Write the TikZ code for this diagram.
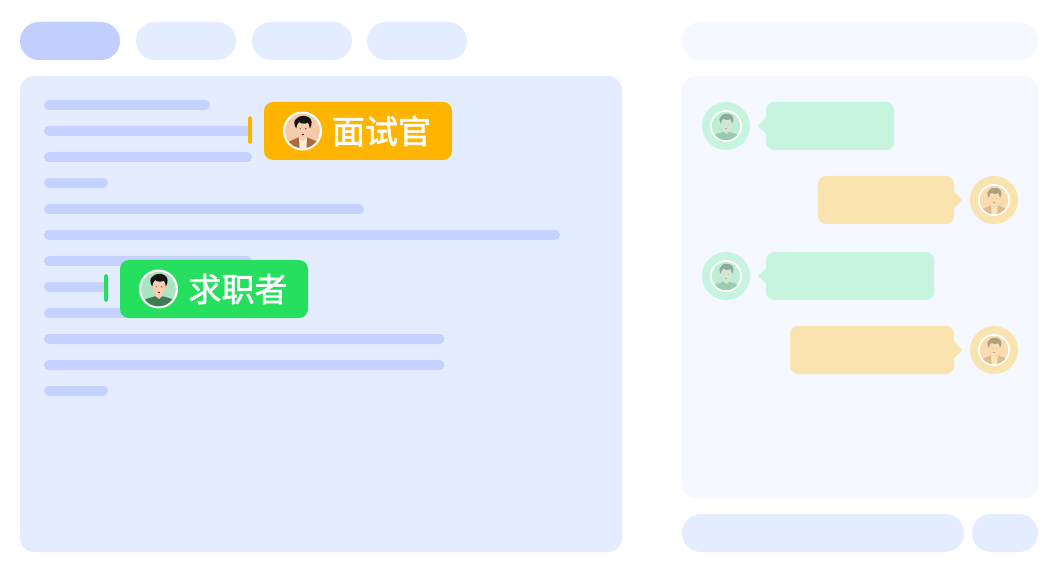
\documentclass[tikz,border=0pt]{standalone}
\usepackage{fontspec}
\newfontfamily\cjk[FakeBold=1.6]{Noto Sans CJK SC}
\definecolor{panel}{HTML}{E4EDFF}
\definecolor{pale}{HTML}{F5F8FF}
\definecolor{barc}{HTML}{C5D2FF}
\definecolor{tabsel}{HTML}{C1CFFF}
\definecolor{orangeb}{HTML}{FFB400}
\definecolor{greenb}{HTML}{26DF5F}
\definecolor{mint}{HTML}{C6F4DE}
\definecolor{sand}{HTML}{F9E4B0}
\definecolor{skin}{HTML}{F8CDB0}
\definecolor{mbg}{HTML}{ABE4C0}
\definecolor{mshirt}{HTML}{3F7A52}
\definecolor{obg}{HTML}{F6CBAA}
\definecolor{ojacket}{HTML}{B0683F}
\definecolor{hairc}{HTML}{141414}
\tikzset{
  x=1pt,y=-1pt,
  tabpill/.style={rounded corners=19pt},
  panelbox/.style={rounded corners=14pt},
  barline/.style={fill=barc,rounded corners=4.9pt},
  badge/.style={rounded corners=9pt},
  bubble/.style={rounded corners=8pt},
  tick/.style={rounded corners=1.9pt},
  badgetext/.style={text=white,font=\cjk\fontsize{33}{33}\selectfont,inner sep=0pt},
}
% \avatarpic{cx}{cy}{inner radius}{bg}{type 0=green 1=orange}{veil colour}{veil opacity}
\newcommand{\avatarpic}[7]{%
\begin{scope}[shift={(#1,#2)},scale=#3/17.5]
\begin{scope}
\clip (0,0) circle[radius=17.5];
\fill[#4] (-18,-18) rectangle (18,18);
\ifnum#5=0
  \fill[mshirt] (-18,18) -- (-17,13) .. controls (-14,10) and (-9,9) .. (-4,7.5) -- (5,7.5) .. controls (10,9) and (15,10) .. (18,13) -- (18,18) -- cycle;
\else
  \fill[ojacket] (-18,18) -- (-17,13) .. controls (-14,10) and (-9,9) .. (-4,6.5) -- (5,6.5) .. controls (10,9) and (15,10) .. (18,13) -- (18,18) -- cycle;
  \fill[white!85!orange] (-3.5,6.5) -- (4.5,6.5) -- (4,18) -- (-3,18) -- cycle;
\fi
\fill[skin] (-2.5,1) rectangle (3.5,8);
\fill[skin] (-2.5,7.5) -- (3.5,7.5) -- (.5,10) -- cycle;
\fill[skin] (-6.2,-2.5) circle[radius=1.3] (7.2,-2.5) circle[radius=1.3];
\fill[skin] (.5,-3) ellipse[x radius=6.3,y radius=9.5];
\fill[hairc] (-6.4,-2.5) .. controls (-9,-7) and (-9,-11) .. (-6,-12.5)
  .. controls (-4,-15.5) and (3,-16.5) .. (6,-14)
  .. controls (9.5,-12.5) and (10.5,-7) .. (7.4,-2.5)
  .. controls (7,-5) and (6.5,-7) .. (5.5,-8.5)
  .. controls (3,-7) and (-1,-7) .. (-3.5,-9)
  .. controls (-5,-8) and (-6,-5) .. (-6.4,-2.5) -- cycle;
\fill[black!80] (-2.3,-2.2) circle[radius=.6] (3.3,-2.2) circle[radius=.6];
\draw[red!60!black,line width=.4pt] (-.8,3) .. controls (0,3.6) and (1,3.6) .. (1.8,3);
\fill[#6,opacity=#7] (-18,-18) rectangle (18,18);
\end{scope}
\end{scope}}
\begin{document}
\begin{tikzpicture}
\useasboundingbox (0,0) rectangle (1058,572);
\fill[white] (0,0) rectangle (1058,572);
% tabs
\fill[tabpill,fill=tabsel] (20,22) rectangle (120,60);
\fill[tabpill,fill=panel] (136,22) rectangle (236,60);
\fill[tabpill,fill=panel] (252,22) rectangle (352,60);
\fill[tabpill,fill=panel] (367,22) rectangle (467,60);
% panels
\fill[panel,panelbox] (20,76) rectangle (622,552);
\fill[pale,tabpill] (682,22) rectangle (1038,60);
\fill[pale,panelbox] (682,76) rectangle (1038,498);
\fill[tabpill,fill=panel] (682,514) rectangle (964,552);
\fill[tabpill,fill=panel] (972,514) rectangle (1038,552);
% text bars
\fill[barline] (44,100) rectangle (210,110);
\fill[barline] (44,126) rectangle (252,136);
\fill[barline] (44,152) rectangle (252,162);
\fill[barline] (44,178) rectangle (108,188);
\fill[barline] (44,204) rectangle (364,214);
\fill[barline] (44,230) rectangle (560,240);
\fill[barline] (44,256) rectangle (252,266);
\fill[barline] (44,282) rectangle (108,292);
\fill[barline] (44,308) rectangle (252,318);
\fill[barline] (44,334) rectangle (444.5,344);
\fill[barline] (44,360) rectangle (444.5,370);
\fill[barline] (44,386) rectangle (108,396);
% orange badge
\fill[orangeb,tick] (248,116) rectangle (252,144);
\fill[orangeb,badge] (264,102) rectangle (452,160);
\fill[white] (302.5,131) circle[radius=19.5];
\avatarpic{302.5}{131}{17.3}{obg}{1}{white}{0}
\node[badgetext] (interviewer) at (381.5,131) {面试官};
% green badge
\fill[greenb,tick] (104,274) rectangle (108,302);
\fill[greenb,badge] (120,260) rectangle (308,318);
\fill[white] (158.5,289) circle[radius=19.5];
\avatarpic{158.5}{289}{17.3}{mbg}{0}{white}{0}
\node[badgetext] (candidate) at (238,289) {求职者};
% chat rows
\fill[mint] (726,126) circle[radius=24];
\fill[white] (726,126) circle[radius=16];
\avatarpic{726}{126}{14}{mbg}{0}{mint}{.68}
\fill[mint,bubble] (766,102) rectangle (894,150);
\fill[mint] (766,118) -- (758,126) -- (766,134) -- cycle;
\fill[sand] (994,200) circle[radius=24];
\fill[white] (994,200) circle[radius=16];
\avatarpic{994}{200}{14}{obg}{1}{sand}{.68}
\fill[sand,bubble] (818,176) rectangle (954,224);
\fill[sand] (954,192) -- (962,200) -- (954,208) -- cycle;
\fill[mint] (726,276) circle[radius=24];
\fill[white] (726,276) circle[radius=16];
\avatarpic{726}{276}{14}{mbg}{0}{mint}{.68}
\fill[mint,bubble] (766,252) rectangle (934,300);
\fill[mint] (766,268) -- (758,276) -- (766,284) -- cycle;
\fill[sand] (994,350) circle[radius=24];
\fill[white] (994,350) circle[radius=16];
\avatarpic{994}{350}{14}{obg}{1}{sand}{.68}
\fill[sand,bubble] (790,326) rectangle (954,374);
\fill[sand] (954,342) -- (962,350) -- (954,358) -- cycle;
\end{tikzpicture}
\end{document}
